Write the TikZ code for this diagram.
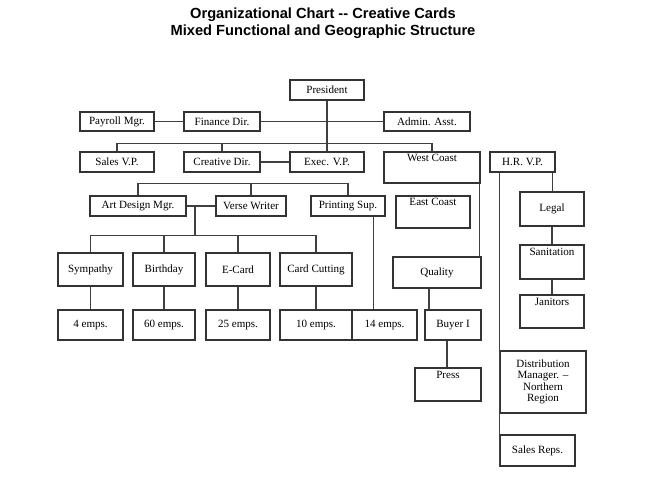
\documentclass[tikz,border=0pt]{standalone}
\usepackage{fontspec}
\setmainfont{Liberation Serif}
\newfontfamily\titlefont{Liberation Sans}
\begin{document}
\begin{tikzpicture}[x=0.75pt,y=-0.75pt,
  box/.style={draw=black!80,line width=0.8pt,inner sep=0pt,align=center,font=\fontsize{8.3}{8.6}\selectfont},
  ln/.style={draw=black!75,line width=0.9pt}]
\useasboundingbox (0,0) rectangle (646,486);
\newcommand\bx[6]{\node[box,minimum width={(#4-#2)*0.75pt},minimum height={(#5-#3)*0.75pt}] (#1) at ({(#2+#4)/2},{(#3+#5)/2}) {#6};}
\node[font=\titlefont\bfseries\fontsize{11}{13}\selectfont,align=center] (title) at (323,23) {Organizational Chart -- Creative Cards\\Mixed Functional and Geographic Structure};
\bx{pres}{290}{80}{364}{100}{President}
\bx{pay}{80}{112}{154}{131}{Payroll Mgr.}
\bx{fin}{184}{112}{260}{131}{Finance Dir.}
\bx{adm}{384}{112}{470}{131}{Admin. Asst.}
\bx{sales}{80}{152}{154}{172}{Sales V.P.}
\bx{cre}{184}{152}{260}{172}{Creative Dir.}
\bx{exec}{290}{152}{364}{172}{Exec. V.P.}
\bx{west}{384}{152}{480}{183}{West Coast\\[6pt]\mbox{}}
\bx{hr}{490}{152}{555}{172}{H.R. V.P.}
\bx{art}{90}{196}{186}{216}{Art Design Mgr.}
\bx{verse}{216}{196}{286}{216}{Verse Writer}
\bx{print}{311}{196}{385}{216}{Printing Sup.}
\bx{east}{396}{196}{470}{228}{East Coast\\[6pt]\mbox{}}
\bx{legal}{520}{192}{584}{226}{Legal}
\bx{san}{520}{245}{584}{279}{Sanitation\\[6pt]\mbox{}}
\bx{jan}{520}{295}{584}{328}{Janitors\\[6pt]\mbox{}}
\bx{sym}{58}{253}{123}{286}{Sympathy}
\bx{bir}{133}{253}{195}{286}{Birthday}
\bx{ecard}{206}{253}{270}{286}{E-Card}
\bx{cut}{280}{253}{352}{286}{Card Cutting}
\bx{qual}{393}{257}{481}{288}{Quality}
\bx{e4}{58}{310}{123}{340}{4 emps.}
\bx{e60}{133}{310}{195}{340}{60 emps.}
\bx{e25}{206}{310}{270}{340}{25 emps.}
\bx{e10}{280}{310}{352}{340}{10 emps.}
\bx{e14}{352}{310}{417}{340}{14 emps.}
\bx{buy}{425}{310}{481}{340}{Buyer I}
\bx{press}{415}{368}{481}{401}{Press\\[6pt]\mbox{}}
\bx{dist}{500}{351}{586}{413}{Distribution\\Manager. --\\Northern\\Region}
\bx{reps}{500}{435}{575}{466}{Sales Reps.}
% connectors
\draw[ln] (pres.south) -- (exec.north);
\draw[ln] (pay.east) -- (fin.west);
\draw[ln] (fin.east) -- (adm.west);
\draw[ln] (cre.east) -- (exec.west);
\draw[ln] (sales.north) -- ++(0,-8) -| (west.north);
\draw[ln] (cre.north) -- ++(0,-8);
\draw[ln] (art.north) -- ++(0,-12) -| (print.north);
\draw[ln] (verse.north) -- ++(0,-12);
\draw[ln] (art.east) -- (verse.west);
\coordinate (ab) at (195,206);
\draw[ln] (ab) -- (195,236);
\draw[ln] (sym.north) -- ++(0,-17) -| (cut.north);
\draw[ln] (bir.north) -- ++(0,-17);
\draw[ln] (ecard.north) -- ++(0,-17);
\draw[ln] (sym) -- (e4);
\draw[ln] (bir) -- (e60);
\draw[ln] (ecard) -- (e25);
\draw[ln] (cut) -- (e10);
\draw[ln] (print.south -| e14.north east) ++(-44,0) coordinate (pp) -- (pp |- e14.north);
\draw[ln] (west.south east) ++(-1,0) coordinate (wc) -- (wc |- qual.north);
\draw[ln] (qual.south) ++(-8,0) coordinate (qb) -- (qb |- buy.north);
\draw[ln] (buy.south) ++(-6,0) coordinate (bb) -- (bb |- press.north);
\draw[ln] (hr.south east) ++(-3,0) coordinate (hl) -- (hl |- legal.north);
\draw[ln] (legal) -- (san);
\draw[ln] (san) -- (jan);
\draw[ln] (hr.south west) ++(10,0) coordinate (hd) -- (hd |- reps.south);
\end{tikzpicture}
\end{document}
